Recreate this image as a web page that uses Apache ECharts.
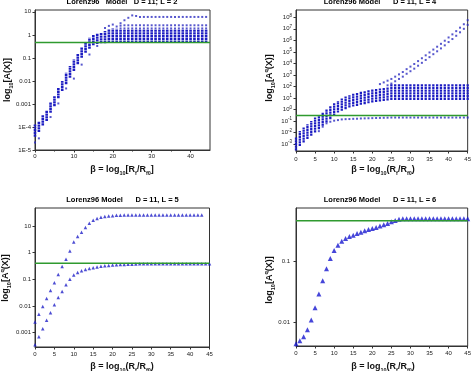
<!DOCTYPE html>
<html><head><meta charset="utf-8">
<script src="https://cdn.jsdelivr.net/npm/echarts@6/dist/echarts.min.js"></script>
<style>html,body{margin:0;padding:0;background:#fff}#c{width:474px;height:371px}</style>
</head><body><div id="c"></div>
<script>
// ---------- data ----------
const betaA = [0,1,2,3,4,5,6,7,8,9,10,11,12,13,14,15,16,17,18,19,20,21,22,23,24,25,26,27,28,29,30,31,32,33,34,35,36,37,38,39,40,41,42,43,44];
const betaB = [0,1,2,3,4,5,6,7,8,9,10,11,12,13,14,15,16,17,18,19,20,21,22,23,24,25,26,27,28,29,30,31,32,33,34,35,36,37,38,39,40,41,42,43,44,45];
const xTicks = [0,5,10,15,20,25,30,35,40,45];

// Panel 1 (L = 2): dense streak bottom / top per beta, plus scattered points
const p1Lo = [4.1e-5,6.5e-5,1.26e-4,1.95e-4,4.5e-4,8.7e-4,1.9e-3,4.0e-3,7.8e-3,1.48e-2,2.95e-2,5.75e-2,0.11,0.18,0.27,0.38,0.43,0.47,0.47,0.5,0.5,
  0.5,0.5,0.5,0.5,0.5,0.5,0.5,0.5,0.5,0.5,0.5,0.5,0.5,0.5,0.5,0.5,0.5,0.5,0.5,0.5,0.5,0.5,0.5,0.5];
const p1Hi = [1.17e-4,1.55e-4,3.0e-4,4.8e-4,1.1e-3,2.0e-3,4.7e-3,9.1e-3,2.1e-2,4.1e-2,7.9e-2,0.14,0.27,0.43,0.69,0.91,1.05,1.15,1.35,1.6,1.75,1.7,
  1.55,1.55,1.55,1.55,1.55,1.55,1.55,1.55,1.55,1.55,1.55,1.55,1.55,1.55,1.55,1.55,1.55,1.55,1.55,1.55,1.55,1.55,1.55];
const p1LowX = [0,1,4,6,8,10,12,14,16];
const p1LowY = [2.1e-5,3.2e-5,2.7e-4,1.05e-3,4.7e-3,1.26e-2,5.1e-2,0.14,0.33];
const p1RiseX = [18,19,20];
const p1RiseY = [2.0,2.45,2.8];
const p1TopX = [22,23,24,25,26,27,28,29,30,31,32,33,34,35,36,37,38,39,40,41,42,43,44];
const p1TopY = [3.2,4.3,5.5,7.0,6.6,6.0,6.0,6.0,6.0,6.0,6.0,6.0,6.0,6.0,6.0,6.0,6.0,6.0,6.0,6.0,6.0,6.0,6.0];
const p1MidX = [21,22,23,24,25,26,27,28,29,30,31,32,33,34,35,36,37,38,39,40,41,42,43,44];
const p1MidY = [2.3,2.5,2.6,2.6,2.6,2.6,2.6,2.6,2.6,2.6,2.6,2.6,2.6,2.6,2.6,2.6,2.6,2.6,2.6,2.6,2.6,2.6,2.6,2.6];
const p1RowX = [22,23,24,25,26,27,28,29,30,31,32,33,34,35,36,37,38,39,40,41,42,43,44];
const p1RowY = [1.9,1.9,1.9,1.9,1.9,1.9,1.9,1.9,1.9,1.9,1.9,1.9,1.9,1.9,1.9,1.9,1.9,1.9,1.9,1.9,1.9,1.9,1.9];
const p1Green = 0.47;

// Panel 2 (L = 4)
const p2Lo = [3.2e-4,7.9e-4,1.6e-3,3.2e-3,6.3e-3,1.17e-2,2.3e-2,4.5e-2,8.7e-2,0.17,0.33,0.63,0.89,1.26,1.74,2.1,2.4,3.0,3.4,4.0,4.7,5.2,5.9,6.3,7.1,
  7.9,7.9,7.9,7.9,7.9,7.9,7.9,7.9,7.9,7.9,7.9,7.9,7.9,7.9,7.9,7.9,7.9,7.9,7.9,7.9,7.9];
const p2Hi = [3.2e-3,1.17e-2,2.3e-2,4.5e-2,8.7e-2,0.17,0.27,0.46,0.89,1.74,2.95,4.7,7.6,11.2,14.5,20,25,31,35,42,50,56,60,63,71,
  141,141,141,141,141,141,141,141,141,141,141,141,141,141,141,141,141,141,141,141,141];
const p2LowX = [6,7,8,9,10,11,12,13,14,15,16,17,18,19,20,21,22,23,24,25,26,27,28,29,30,31,32,33,34,35,36,37,38,39,40,41,42,43,44,45];
const p2LowY = [0.0132,0.032,0.063,0.087,0.107,0.12,0.138,0.145,0.148,0.155,0.158,0.166,0.17,0.174,0.178,0.182,0.186,0.19,0.195,
  0.2,0.2,0.2,0.2,0.2,0.2,0.2,0.2,0.2,0.2,0.2,0.2,0.2,0.2,0.2,0.2,0.2,0.2,0.2,0.2,0.2];
const p2UpAX = [22,23,24,25,26,27,28,29,30,31,32,33,34,35,36,37,38,39,40,41,42,43,44,45];
const p2UpAY = [160,224,316,447,708,1120,1780,3160,5250,8900,15800,28000,50000,89000,158000,280000,500000,930000,1780000,3300000,6300000,12600000,25000000,56000000];
const p2UpBX = [24,25,26,27,28,29,30,31,32,33,34,35,36,37,38,39,40,41,42,43,44,45];
const p2UpBY = [126,178,282,447,708,1260,2100,3500,6300,11200,20000,35000,63000,112000,200000,370000,710000,1300000,2500000,5000000,10000000,22000000];
const p2Green = 0.3;

// Panel 3 (L = 5)
const p3Up = [0.0025,0.0049,0.0095,0.019,0.038,0.075,0.15,0.30,0.57,1.15,2.5,4.0,5.8,8.7,12.6,16.3,18.8,21,22.4,23.6,24.3,25,25.4,
  25.7,25.7,25.7,25.7,25.7,25.7,25.7,25.7,25.7,25.7,25.7,25.7,25.7,25.7,25.7,25.7,25.7,25.7,25.7,25.7,25.7];
const p3Low = [0.00035,0.0007,0.0014,0.0029,0.0056,0.011,0.021,0.035,0.062,0.10,0.145,0.18,0.21,0.235,0.255,0.27,0.29,0.31,0.32,0.33,0.34,0.35,0.355,0.36,0.365,0.37,0.375,0.38,
  0.385,0.385,0.385,0.385,0.385,0.385,0.385,0.385,0.385,0.385,0.385,0.385,0.385,0.385,0.385,0.385,0.385,0.385];
const p3Green = 0.40;

// Panel 4 (L = 6)
const p4 = [0.0044,0.0049,0.0057,0.0075,0.0108,0.0172,0.0289,0.048,0.0756,0.112,0.152,0.184,0.216,0.239,0.258,0.271,0.289,0.304,0.319,0.336,0.35,0.363,0.382,0.401,0.423,0.449,0.473,0.498,
  0.503,0.503,0.503,0.503,0.503,0.503,0.503,0.503,0.503,0.503,0.503,0.503,0.503,0.503,0.503,0.503,0.503,0.503];
const p4Green = 0.467;

// tick labels
const y1Vals = [1e-5,1e-4,1e-3,1e-2,1e-1,1,10];
const y1Labels = ['1E-5','1E-4','0.001','0.01','0.1','1','10'];
const y2Vals = [1e-3,1e-2,1e-1,1,10,100,1e3,1e4,1e5,1e6,1e7,1e8];
const y2Labels = ['10{s|-3}','10{s|-2}','10{s|-1}','10{s|0}','10{s|1}','10{s|2}','10{s|3}','10{s|4}','10{s|5}','10{s|6}','10{s|7}','10{s|8}'];
const y3Vals = [1e-3,1e-2,1e-1,1,10];
const y3Labels = ['0.001','0.01','0.1','1','10'];
const y4Vals = [1e-2,1e-1];
const y4Labels = ['0.01','0.1'];

const titles = ['Lorenz96   Model   D = 11; L = 2','Lorenz96 Model      D = 11, L = 4','Lorenz96 Model      D = 11, L = 5','Lorenz96 Model      D = 11, L = 6'];

// ---------- style ----------
const FONT = 'Arial, "Liberation Sans", sans-serif';
const BLUE = '#1c1cc2';
const DOT = '#2c2cc0';
const GREEN = '#2f9a2f';
const AX = '#333';

const grids = [
  {left:35, top:10, width:175, height:140},
  {left:296, top:10, width:174, height:141},
  {left:35, top:208, width:174.5, height:139},
  {left:296, top:208, width:173.5, height:138}
];

function xAxis(gi, tickVals, margin, minor) {
  return {
    type:'value', gridIndex:gi, min:0, max:45,
    axisLine:{lineStyle:{color:AX,width:1}},
    axisTick:{length:2.5, lineStyle:{color:AX}, customValues:tickVals},
    minorTick:{show:!!minor, splitNumber:2, length:1.5, lineStyle:{color:AX}},
    axisLabel:{fontSize:6, color:'#222', fontFamily:FONT, margin:margin, customValues:tickVals},
    splitLine:{show:false}
  };
}
function yAxis(gi, min, max, vals, labels, margin) {
  return {
    type:'log', logBase:10, gridIndex:gi, min:min, max:max,
    axisLine:{lineStyle:{color:AX,width:1}},
    axisTick:{length:2.5, lineStyle:{color:AX}, customValues:vals},
    axisLabel:{fontSize:6, color:'#222', fontFamily:FONT, margin:margin, customValues:vals,
      formatter:function(v){ let best=0, d=1e9; vals.forEach((t,i)=>{const e=Math.abs(Math.log10(v)-Math.log10(t)); if(e<d){d=e;best=i;}}); return d<1e-6?labels[best]:''; },
      rich:{s:{fontSize:4.5, color:'#222', fontFamily:FONT, verticalAlign:'top', lineHeight:9}}},
    splitLine:{show:false}
  };
}

// dense column of points drawn as a dotted vertical stroke between lo and hi
function streak(gi, xs, lo, hi, w, color) {
  return {
    type:'custom', xAxisIndex:gi, yAxisIndex:gi, z:2,
    renderItem:function(params, api){
      const a = api.coord([api.value(0), api.value(1)]);
      const b = api.coord([api.value(0), api.value(2)]);
      return {type:'line', shape:{x1:a[0], y1:a[1]+0.8, x2:b[0], y2:b[1]-0.8},
        style:{stroke:color, lineWidth:w, lineDash:[2.2,0.5]}};
    },
    encode:{x:0, y:[1,2]},
    data: xs.map((x,i)=>[x, lo[i], hi[i]])
  };
}
function dots(gi, xs, ys, symbol, size, color) {
  return {type:'scatter', xAxisIndex:gi, yAxisIndex:gi, symbol:symbol, symbolSize:size, z:3,
    itemStyle:{color:color}, data: xs.map((x,i)=>[x, ys[i]])};
}
function green(gi, v) {
  return {type:'line', xAxisIndex:gi, yAxisIndex:gi, z:4, symbol:'none', lineStyle:{color:GREEN, width:1.5},
    data:[[0,v],[45,v]]};
}

const sub = {
  s:{fontSize:5.5, fontWeight:'bold', fontFamily:FONT, verticalAlign:'bottom', lineHeight:13, fill:'#111'},
  p:{fontSize:5.5, fontWeight:'bold', fontFamily:FONT, verticalAlign:'top', lineHeight:13, fill:'#111'}
};
function label(x, y, text, rot, size) {
  return {type:'text', x:x, y:y, rotation:rot||0,
    style:{text:text, fill:'#111', font:'bold '+(size||9)+'px '+FONT, align:'center', verticalAlign:'middle', rich:sub}};
}
function title(x, y, text) {
  return {type:'text', x:x, y:y, style:{text:text, fill:'#000', font:'bold 7.5px '+FONT, align:'center', verticalAlign:'middle'}};
}

const chart = echarts.init(document.getElementById('c'), null, {renderer:'canvas'});
chart.setOption({
  animation:false,
  backgroundColor:'#fff',
  grid: grids.map(g=>Object.assign({show:true, borderColor:AX, borderWidth:1, backgroundColor:'transparent', containLabel:false}, g)),
  xAxis:[ xAxis(0,[0,10,20,30,40],3,true), xAxis(1,xTicks,5,false), xAxis(2,xTicks,4,false), xAxis(3,xTicks,4,false) ],
  yAxis:[ yAxis(0,1e-5,12,y1Vals,y1Labels,4), yAxis(1,2.5e-4,4.3e8,y2Vals,y2Labels,4), yAxis(2,2.9e-4,47,y3Vals,y3Labels,4), yAxis(3,0.00403,0.76,y4Vals,y4Labels,6) ],
  series:[
    streak(0, betaA, p1Lo, p1Hi, 2.6, BLUE),
    dots(0, p1LowX, p1LowY, 'rect', 2, DOT),
    dots(0, p1RiseX, p1RiseY, 'rect', 2, DOT),
    dots(0, p1TopX, p1TopY, 'rect', 2, DOT),
    dots(0, p1MidX, p1MidY, 'rect', 2, DOT),
    dots(0, p1RowX, p1RowY, 'rect', 2, DOT),
    green(0, p1Green),
    streak(1, betaB, p2Lo, p2Hi, 2.3, BLUE),
    dots(1, p2LowX, p2LowY, 'rect', 2, DOT),
    dots(1, p2UpAX, p2UpAY, 'rect', 2, DOT),
    dots(1, p2UpBX, p2UpBY, 'rect', 2, DOT),
    green(1, p2Green),
    dots(2, betaB, p3Up, 'triangle', 3.5, '#2020c8'),
    dots(2, betaB, p3Low, 'triangle', 3.5, '#2020c8'),
    green(2, p3Green),
    dots(3, betaB, p4, 'triangle', 5, '#1818d0'),
    green(3, p4Green)
  ],
  graphic:[
    title(122, 1.5, titles[0]), title(380, 1.5, titles[1]), title(122.5, 200, titles[2]), title(380, 200, titles[3]),
    label(122, 169.5, 'β = log{s|10}[R{s|f}/R{s|f0}]'),
    label(383, 170, 'β = log{s|10}(R{s|f}/R{s|f0})'),
    label(122, 366.5, 'β = log{s|10}(R{s|f}/R{s|f0})'),
    label(383, 366.5, 'β = log{s|10}(R{s|f}/R{s|f0})'),
    label(8, 80, 'log{s|10}[A(X)]', Math.PI/2),
    label(270, 78, 'log{s|10}[A{p|q}(X)]', Math.PI/2),
    label(6, 278, 'log{s|10}[A{p|q}(X)]', Math.PI/2),
    label(270, 280, 'log{s|10}[A{p|q}(X)]', Math.PI/2)
  ]
});
</script></body></html>
